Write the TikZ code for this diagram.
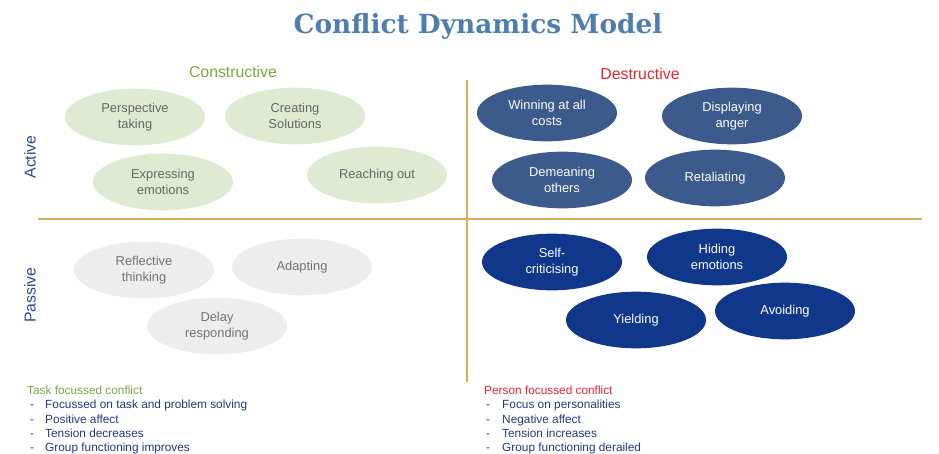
\documentclass[tikz,border=0pt]{standalone}
\usepackage{fontspec}
\setmainfont{Liberation Sans}
\newfontfamily\titlefont{DejaVu Serif}
\usetikzlibrary{shapes.geometric, positioning}
\definecolor{titleblue}{HTML}{4F7DB0}
\definecolor{consgreen}{HTML}{76A843}
\definecolor{desred}{HTML}{E0282E}
\definecolor{axisnavy}{HTML}{2A4A8E}
\definecolor{listnavy}{HTML}{22397E}
\definecolor{divgold}{HTML}{D8AE55}
\definecolor{palegreen}{HTML}{DEEBD2}
\definecolor{palegrey}{HTML}{EDEDED}
\definecolor{slateblue}{HTML}{3C5A8B}
\definecolor{deepnavy}{HTML}{10378A}

\begin{document}
\begin{tikzpicture}[
			x=0.03cm, y=-0.03cm,
			blob/.style={ellipse, minimum width=4.2cm, minimum height=1.7cm, inner sep=0pt,
				align=center, font=\fontsize{11}{13.5}\selectfont},
			cons/.style={blob, fill=palegreen, text=black!60},
			pass/.style={blob, fill=palegrey, text=black!55},
			dact/.style={blob, fill=slateblue, text=white},
			dpas/.style={blob, fill=deepnavy, text=white},
			head/.style={font=\fontsize{13.5}{16}\selectfont},
			axis/.style={rotate=90, text=axisnavy, font=\fontsize{13.5}{16}\selectfont},
			divider/.style={draw=divgold, line width=1.4pt},
			listtext/.style={anchor=north west, inner sep=0pt, text=listnavy,
				align=left, font=\fontsize{10.1}{12.3}\selectfont}
			]
			\useasboundingbox (0,0) rectangle (939,454);
			\node[text=titleblue, font=\titlefont\bfseries\fontsize{22.5}{26}\selectfont] (title) at (478,26) {Conflict Dynamics Model};
			\node[head, text=consgreen] (constr) at (233,72) {Constructive};
			\node[head, text=desred] (destr) at (640,74) {Destructive};
			\node[axis] (active) at (30,157) {Active};
			\node[axis] (passive) at (30,295) {Passive};
			\coordinate (vtop) at (467,80);
			\coordinate (vbot) at (467,382);
			\coordinate (hleft) at (38,219);
			\coordinate (hright) at (922,219);
			\draw[divider] (vtop) -- (vbot);
			\draw[divider] (hleft) -- (hright);
			\node[cons] (persp) at (135,117) {Perspective\\taking};
			\node[cons] (creat) at (295,116) {Creating\\Solutions};
			\node[cons] (expr) at (163,182) {Expressing\\emotions};
			\node[cons] (reach) at (377,175) {Reaching out};
			\node[dact] (win) at (547,113) {Winning at all\\costs};
			\node[dact] (anger) at (732,116) {Displaying\\anger};
			\node[dact] (demean) at (562,180) {Demeaning\\others};
			\node[dact] (retal) at (715,178) {Retaliating};
			\node[pass] (reflect) at (144,270) {Reflective\\thinking};
			\node[pass] (adapt) at (302,267) {Adapting};
			\node[pass] (delay) at (217,326) {Delay\\responding};
			\node[dpas] (selfcrit) at (552,262) {Self-\\criticising};
			\node[dpas] (hiding) at (717,257) {Hiding\\emotions};
			\node[dpas] (yield) at (636,320) {Yielding};
			\node[dpas] (avoid) at (785,311) {Avoiding};
			\node[listtext] (tasklist) at (27,384) {%
				\begin{tabular}{@{}p{0.54cm}@{}l@{}}
				\multicolumn{2}{@{}l@{}}{\textcolor{consgreen}{Task focussed conflict}}\\
				\hspace{0.09cm}- & Focussed on task and problem solving\\
				\hspace{0.09cm}- & Positive affect\\
				\hspace{0.09cm}- & Tension decreases\\
				\hspace{0.09cm}- & Group functioning improves
				\end{tabular}};
			\node[listtext] (personlist) at (484,384) {%
				\begin{tabular}{@{}p{0.54cm}@{}l@{}}
				\multicolumn{2}{@{}l@{}}{\textcolor{desred}{Person focussed conflict}}\\
				\hspace{0.06cm}- & Focus on personalities\\
				\hspace{0.06cm}- & Negative affect\\
				\hspace{0.06cm}- & Tension increases\\
				\hspace{0.06cm}- & Group functioning derailed
				\end{tabular}};
		\end{tikzpicture}
\end{document}
